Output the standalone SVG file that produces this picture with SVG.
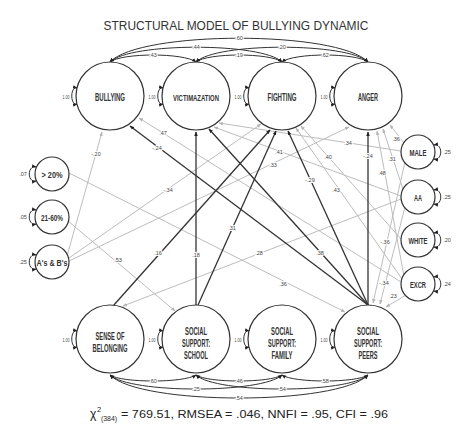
<svg xmlns="http://www.w3.org/2000/svg" width="474" height="429" viewBox="0 0 474 429">
<defs>
<marker id="ad" viewBox="0 0 10 10" refX="9" refY="5" markerWidth="4.5" markerHeight="4.5" markerUnits="userSpaceOnUse" orient="auto-start-reverse"><path d="M0,1 L10,5 L0,9 z" fill="#222"/></marker>
<marker id="ag" viewBox="0 0 10 10" refX="9" refY="5" markerWidth="4.5" markerHeight="4.5" markerUnits="userSpaceOnUse" orient="auto-start-reverse"><path d="M0,1 L10,5 L0,9 z" fill="#b5b5b5"/></marker>
<style>
.n circle{fill:#fff;stroke:#333;stroke-width:1.2}
.nl{font-family:"Liberation Sans",Arial,sans-serif;font-weight:bold;font-size:10px;fill:#333;text-anchor:middle}
.sl{font-family:"Liberation Sans",Arial,sans-serif;font-weight:bold;font-size:8.5px;fill:#333;text-anchor:middle}
.d{stroke:#333;stroke-width:1.3;fill:none;marker-end:url(#ad)}
.g{stroke:#bdbdbd;stroke-width:1;fill:none;marker-end:url(#ag)}
.c{stroke:#333;stroke-width:1;fill:none;marker-start:url(#ad);marker-end:url(#ad)}
.lb{font-family:"Liberation Sans",Arial,sans-serif;font-size:5.5px;fill:#444;text-anchor:middle;paint-order:stroke;stroke:#fff;stroke-width:2px}
.lv{font-family:"Liberation Sans",Arial,sans-serif;font-size:5.5px;fill:#444;text-anchor:middle}
</style>
</defs>
<rect width="474" height="429" fill="#fff"/>
<text x="236" y="30" font-family="'Liberation Sans',Arial,sans-serif" font-size="12.5" fill="#333" text-anchor="middle" textLength="265" lengthAdjust="spacingAndGlyphs">STRUCTURAL MODEL OF BULLYING DYNAMIC</text>

<g id="connectors">
<!-- gray exogenous paths -->
<path class="g" d="M69 173 L345 312"/>
<path class="g" d="M68 221 L175 311"/>
<path class="g" d="M67 256 L102 132"/>
<path class="g" d="M69 258 L261 124"/>
<path class="g" d="M69 261 L349 127"/>
<path class="g" d="M401 151 L219 123"/>
<path class="g" d="M401 196 L214 127"/>
<path class="g" d="M401 199 L123 306"/>
<path class="g" d="M401 282 L139 118"/>
<path class="g" d="M401 239 L301 126"/>
<path class="g" d="M402 279 L296 128"/>
<path class="g" d="M404 143 L390 125"/>
<path class="g" d="M403 189 L383 129"/>
<path class="g" d="M404 276 L377 131"/>
<path class="g" d="M405 162 L373 303"/>
<path class="g" d="M405 207 L380 304"/>
<path class="g" d="M406 295 L386 307"/>
<!-- dark structural paths -->
<path class="d" d="M113 306 L270 130"/>
<path class="d" d="M196 305 L196 132"/>
<path class="d" d="M198 305 L276 131"/>
<path class="d" d="M368 305 L130 126"/>
<path class="d" d="M368 305 L209 129"/>
<path class="d" d="M368 305 L288 131"/>
<path class="d" d="M368 305 L368 132"/>
<!-- top correlations -->
<path class="c" d="M110 62 C122 52.7, 184 52.7, 196 62"/>
<path class="c" d="M196 62 C208 52.7, 270 52.7, 282 62"/>
<path class="c" d="M282 62 C294 52.7, 356 52.7, 368 62"/>
<path class="c" d="M110 62 C130 42.3, 262 42.3, 282 62"/>
<path class="c" d="M196 62 C216 42.3, 348 42.3, 368 62"/>
<path class="c" d="M110 62 C140 30.3, 338 30.3, 368 62"/>
<!-- bottom correlations -->
<path class="c" d="M110 375 C122 383, 184 383, 196 375"/>
<path class="c" d="M196 375 C208 383, 270 383, 282 375"/>
<path class="c" d="M282 375 C294 383, 356 383, 368 375"/>
<path class="c" d="M110 375 C130 393.7, 262 393.7, 282 375"/>
<path class="c" d="M196 375 C216 393.7, 348 393.7, 368 375"/>
<path class="c" d="M110 375 C140 405.7, 338 405.7, 368 375"/>
<!-- variance loops -->
<path class="c" d="M77 88 C70 86, 70 106, 77 104"/>
<path class="c" d="M163 88 C156 86, 156 106, 163 104"/>
<path class="c" d="M249 88 C242 86, 242 106, 249 104"/>
<path class="c" d="M335 88 C328 86, 328 106, 335 104"/>
<path class="c" d="M77 331 C70 329, 70 349, 77 347"/>
<path class="c" d="M163 331 C156 329, 156 349, 163 347"/>
<path class="c" d="M249 331 C242 329, 242 349, 249 347"/>
<path class="c" d="M335 331 C328 329, 328 349, 335 347"/>
<path class="c" d="M36 167 C27 165, 27 183, 36 181"/>
<path class="c" d="M36 210 C27 208, 27 226, 36 224"/>
<path class="c" d="M36 255 C27 253, 27 271, 36 269"/>
<path class="c" d="M434 145 C443 143, 443 161, 434 159"/>
<path class="c" d="M434 190 C443 188, 443 206, 434 204"/>
<path class="c" d="M434 233 C443 231, 443 249, 434 247"/>
<path class="c" d="M434 277 C443 275, 443 293, 434 291"/>
<!-- labels -->
<g class="lb">
<text x="158" y="255">.16</text>
<text x="196" y="257">.18</text>
<text x="232" y="230">.31</text>
<text x="157" y="150">-.24</text>
<text x="320" y="255">.38</text>
<text x="310" y="182">-.29</text>
<text x="368" y="158">-.24</text>
<text x="283" y="286">.36</text>
<text x="118" y="262">.53</text>
<text x="96" y="156">-.20</text>
<text x="168" y="192">-.34</text>
<text x="273" y="167">.33</text>
<text x="348" y="145">.34</text>
<text x="279" y="154">.41</text>
<text x="259" y="255">.28</text>
<text x="163" y="135">.47</text>
<text x="328" y="159">.40</text>
<text x="336" y="192">.43</text>
<text x="396" y="141">.36</text>
<text x="392" y="161">.31</text>
<text x="382" y="175">.48</text>
<text x="385" y="244">-.36</text>
<text x="384" y="285">-.34</text>
<text x="393" y="298">.23</text>
<text x="153" y="57">.43</text>
<text x="239" y="57">.19</text>
<text x="325" y="57">.62</text>
<text x="196" y="49">.44</text>
<text x="282" y="49">.20</text>
<text x="239" y="40">.60</text>
<text x="153" y="383">.60</text>
<text x="239" y="383">.46</text>
<text x="325" y="383">.58</text>
<text x="196" y="391">.25</text>
<text x="282" y="391">.54</text>
<text x="239" y="400">.54</text>
</g>
<g class="lv">
<text x="66" y="99" textLength="7" lengthAdjust="spacingAndGlyphs">1.00</text>
<text x="152" y="99" textLength="7" lengthAdjust="spacingAndGlyphs">1.00</text>
<text x="238" y="99" textLength="7" lengthAdjust="spacingAndGlyphs">1.00</text>
<text x="324" y="99" textLength="7" lengthAdjust="spacingAndGlyphs">1.00</text>
<text x="66" y="342" textLength="7" lengthAdjust="spacingAndGlyphs">1.00</text>
<text x="152" y="342" textLength="7" lengthAdjust="spacingAndGlyphs">1.00</text>
<text x="238" y="342" textLength="7" lengthAdjust="spacingAndGlyphs">1.00</text>
<text x="324" y="342" textLength="7" lengthAdjust="spacingAndGlyphs">1.00</text>
<text x="23" y="176">.07</text>
<text x="23" y="219">.05</text>
<text x="23" y="264">.25</text>
<text x="447" y="154">.25</text>
<text x="447" y="199">.25</text>
<text x="447" y="242">.20</text>
<text x="447" y="286">.24</text>
</g>
</g>

<g id="bullying" class="n"><circle cx="110" cy="96" r="34"/><text class="nl" x="110" y="101" textLength="30" lengthAdjust="spacingAndGlyphs">BULLYING</text></g>
<g id="victimazation" class="n"><circle cx="196" cy="96" r="34"/><text class="nl" x="196" y="100.5" style="font-size:8.5px" textLength="46" lengthAdjust="spacingAndGlyphs">VICTIMAZATION</text></g>
<g id="fighting" class="n"><circle cx="282" cy="96" r="34"/><text class="nl" x="282" y="101" textLength="29" lengthAdjust="spacingAndGlyphs">FIGHTING</text></g>
<g id="anger" class="n"><circle cx="368" cy="96" r="34"/><text class="nl" x="368" y="101" textLength="20" lengthAdjust="spacingAndGlyphs">ANGER</text></g>

<g id="belonging" class="n"><circle cx="110" cy="339" r="34"/><text class="nl" x="110" y="340" textLength="29" lengthAdjust="spacingAndGlyphs">SENSE OF</text><text class="nl" x="110" y="352" textLength="35" lengthAdjust="spacingAndGlyphs">BELONGING</text></g>
<g id="school" class="n"><circle cx="196" cy="339" r="34"/><text class="nl" x="196" y="335" textLength="22" lengthAdjust="spacingAndGlyphs">SOCIAL</text><text class="nl" x="196" y="347" textLength="28" lengthAdjust="spacingAndGlyphs">SUPPORT:</text><text class="nl" x="196" y="359" textLength="24" lengthAdjust="spacingAndGlyphs">SCHOOL</text></g>
<g id="family" class="n"><circle cx="282" cy="339" r="34"/><text class="nl" x="282" y="335" textLength="22" lengthAdjust="spacingAndGlyphs">SOCIAL</text><text class="nl" x="282" y="347" textLength="28" lengthAdjust="spacingAndGlyphs">SUPPORT:</text><text class="nl" x="282" y="359" textLength="21" lengthAdjust="spacingAndGlyphs">FAMILY</text></g>
<g id="peers" class="n"><circle cx="368" cy="339" r="34"/><text class="nl" x="368" y="335" textLength="22" lengthAdjust="spacingAndGlyphs">SOCIAL</text><text class="nl" x="368" y="347" textLength="28" lengthAdjust="spacingAndGlyphs">SUPPORT:</text><text class="nl" x="368" y="359" textLength="19" lengthAdjust="spacingAndGlyphs">PEERS</text></g>

<g id="gt20" class="n"><circle cx="52" cy="174" r="17"/><text class="sl" x="52" y="178" textLength="21" lengthAdjust="spacingAndGlyphs">&gt; 20%</text></g>
<g id="p2160" class="n"><circle cx="52" cy="217" r="17"/><text class="sl" x="52" y="221" textLength="22" lengthAdjust="spacingAndGlyphs">21-60%</text></g>
<g id="grades" class="n"><circle cx="52" cy="262" r="17"/><text class="sl" x="52" y="266" textLength="31" lengthAdjust="spacingAndGlyphs">A's &amp; B's</text></g>
<g id="male" class="n"><circle cx="418" cy="152" r="17"/><text class="sl" x="418" y="156" textLength="17" lengthAdjust="spacingAndGlyphs">MALE</text></g>
<g id="aa" class="n"><circle cx="418" cy="197" r="17"/><text class="sl" x="418" y="201" textLength="8" lengthAdjust="spacingAndGlyphs">AA</text></g>
<g id="white" class="n"><circle cx="418" cy="240" r="17"/><text class="sl" x="418" y="244" textLength="19" lengthAdjust="spacingAndGlyphs">WHITE</text></g>
<g id="excr" class="n"><circle cx="418" cy="284" r="17"/><text class="sl" x="418" y="288" textLength="16" lengthAdjust="spacingAndGlyphs">EXCR</text></g>

<g id="fit" font-family="'Liberation Sans',Arial,sans-serif" fill="#222">
<text x="90" y="418" font-size="12">χ</text>
<text x="97" y="412" font-size="7.5">2</text>
<text x="101" y="421" font-size="7.5" textLength="16" lengthAdjust="spacingAndGlyphs">(384)</text>
<text x="121" y="418" font-size="11" textLength="267" lengthAdjust="spacingAndGlyphs">= 769.51, RMSEA = .046, NNFI = .95, CFI = .96</text>
</g>
</svg>
